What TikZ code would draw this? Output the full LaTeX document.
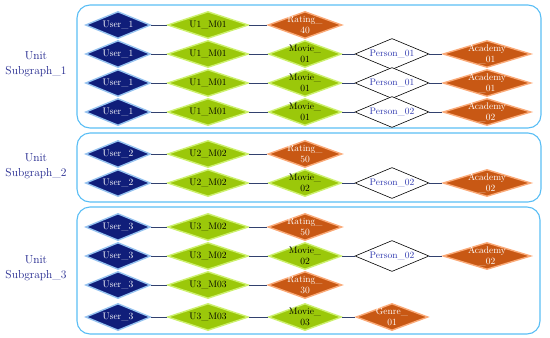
\documentclass[tikz,border=0pt]{standalone}
\usepackage{tikz}
\usetikzlibrary{shapes.geometric}

\definecolor{usernavy}{RGB}{16,30,122}
\definecolor{userrim}{RGB}{150,195,240}
\definecolor{umgreen}{RGB}{155,200,10}
\definecolor{umrim}{RGB}{205,240,110}
\definecolor{burnt}{RGB}{200,88,20}
\definecolor{burntrim}{RGB}{250,170,120}
\definecolor{personblue}{RGB}{45,55,175}
\definecolor{boxblue}{RGB}{90,190,245}
\definecolor{labelblue}{RGB}{30,35,140}
\definecolor{linkcol}{RGB}{50,65,110}

\begin{document}
\begin{tikzpicture}[x=1pt,y=-1pt,
    unit/.style={draw=boxblue, line width=1.1pt, rounded corners=13pt},
    unitname/.style={text=labelblue, align=center, font=\fontsize{11.5}{15}\selectfont},
    gem/.style={diamond, inner sep=0pt, line width=1.4pt, minimum height=27pt},
    usernode/.style={gem, fill=usernavy, draw=userrim, minimum width=65pt},
    umnode/.style={gem, fill=umgreen, draw=umrim, minimum width=81pt},
    movienode/.style={gem, fill=umgreen, draw=umrim, minimum width=73pt},
    ratenode/.style={gem, fill=burnt, draw=burntrim, minimum width=74pt},
    acadnode/.style={gem, fill=burnt, draw=burntrim, minimum width=88pt},
    genrenode/.style={gem, fill=burnt, draw=burntrim, minimum width=72pt},
    personnode/.style={diamond, inner sep=0pt, draw=black, line width=0.6pt, fill=white, minimum width=74pt, minimum height=31pt},
    wtxt/.style={text=white, align=center, font=\fontsize{9.5}{11}\selectfont, inner sep=0pt},
    btxt/.style={wtxt, text=black},
    ptxt/.style={wtxt, text=personblue},
    link/.style={draw=linkcol, line width=0.8pt}]

    \useasboundingbox (0,0) rectangle (550,338);

    % Unit subgraph frames
    \draw[unit] (77,5) rectangle (541,128);
    \draw[unit] (77,133) rectangle (541,202);
    \draw[unit] (77,207) rectangle (540,334);
    \node[unitname] (s1) at (36,64) {Unit\\Subgraph\_1};
    \node[unitname] (s2) at (36,166) {Unit\\Subgraph\_2};
    \node[unitname] (s3) at (36,268) {Unit\\Subgraph\_3};

    % Subgraph 1
    \foreach \i/\y in {1/25,2/54,3/83,4/112} {
        \node[usernode, label={[wtxt]center:User\_1}] (u1\i) at (118,\y) {};
        \node[umnode, label={[btxt]center:U1\_M01}] (m1\i) at (208,\y) {};
        \draw[link] (u1\i) -- (m1\i);
    }
    \node[ratenode, label={[wtxt]center:{Rating\_\\40}}] (r11) at (305,25) {};
    \draw[link] (m11) -- (r11);
    \foreach \i/\y/\p/\a in {2/54/01/01,3/83/01/01,4/112/02/02} {
        \node[movienode, label={[btxt]center:{Movie\_\\01}}] (v1\i) at (305,\y) {};
        \node[personnode, label={[ptxt]center:Person\_\p}] (p1\i) at (392,\y) {};
        \node[acadnode, label={[wtxt]center:{Academy\\\_\a}}] (a1\i) at (487,\y) {};
        \draw[link] (m1\i) -- (v1\i);
        \draw[link] (v1\i) -- (p1\i);
        \draw[link] (p1\i) -- (a1\i);
    }

    % Subgraph 2
    \foreach \i/\y in {1/154,2/183} {
        \node[usernode, label={[wtxt]center:User\_2}] (u2\i) at (118,\y) {};
        \node[umnode, label={[btxt]center:U2\_M02}] (m2\i) at (208,\y) {};
        \draw[link] (u2\i) -- (m2\i);
    }
    \node[ratenode, label={[wtxt]center:{Rating\_\\50}}] (r21) at (305,154) {};
    \node[movienode, label={[btxt]center:{Movie\_\\02}}] (v22) at (305,183) {};
    \node[personnode, label={[ptxt]center:Person\_02}] (p22) at (392,183) {};
    \node[acadnode, label={[wtxt]center:{Academy\\\_02}}] (a22) at (487,183) {};
    \draw[link] (m21) -- (r21);
    \draw[link] (m22) -- (v22);
    \draw[link] (v22) -- (p22);
    \draw[link] (p22) -- (a22);

    % Subgraph 3
    \foreach \i/\y/\m in {1/227/02,2/256/02,3/285/03,4/317/03} {
        \node[usernode, label={[wtxt]center:User\_3}] (u3\i) at (118,\y) {};
        \node[umnode, label={[btxt]center:U3\_M\m}] (m3\i) at (208,\y) {};
        \draw[link] (u3\i) -- (m3\i);
    }
    \node[ratenode, label={[wtxt]center:{Rating\_\\50}}] (r31) at (305,227) {};
    \node[movienode, label={[btxt]center:{Movie\_\\02}}] (v32) at (305,256) {};
    \node[personnode, label={[ptxt]center:Person\_02}] (p32) at (392,256) {};
    \node[acadnode, label={[wtxt]center:{Academy\\\_02}}] (a32) at (487,256) {};
    \node[ratenode, label={[wtxt]center:{Rating\_\\30}}] (r33) at (305,285) {};
    \node[movienode, label={[btxt]center:{Movie\_\\03}}] (v34) at (305,317) {};
    \node[genrenode, label={[wtxt]center:{Genre\_\\01}}] (g34) at (392,317) {};
    \draw[link] (m31) -- (r31);
    \draw[link] (m32) -- (v32);
    \draw[link] (v32) -- (p32);
    \draw[link] (p32) -- (a32);
    \draw[link] (m33) -- (r33);
    \draw[link] (m34) -- (v34);
    \draw[link] (v34) -- (g34);
\end{tikzpicture}
\end{document}
